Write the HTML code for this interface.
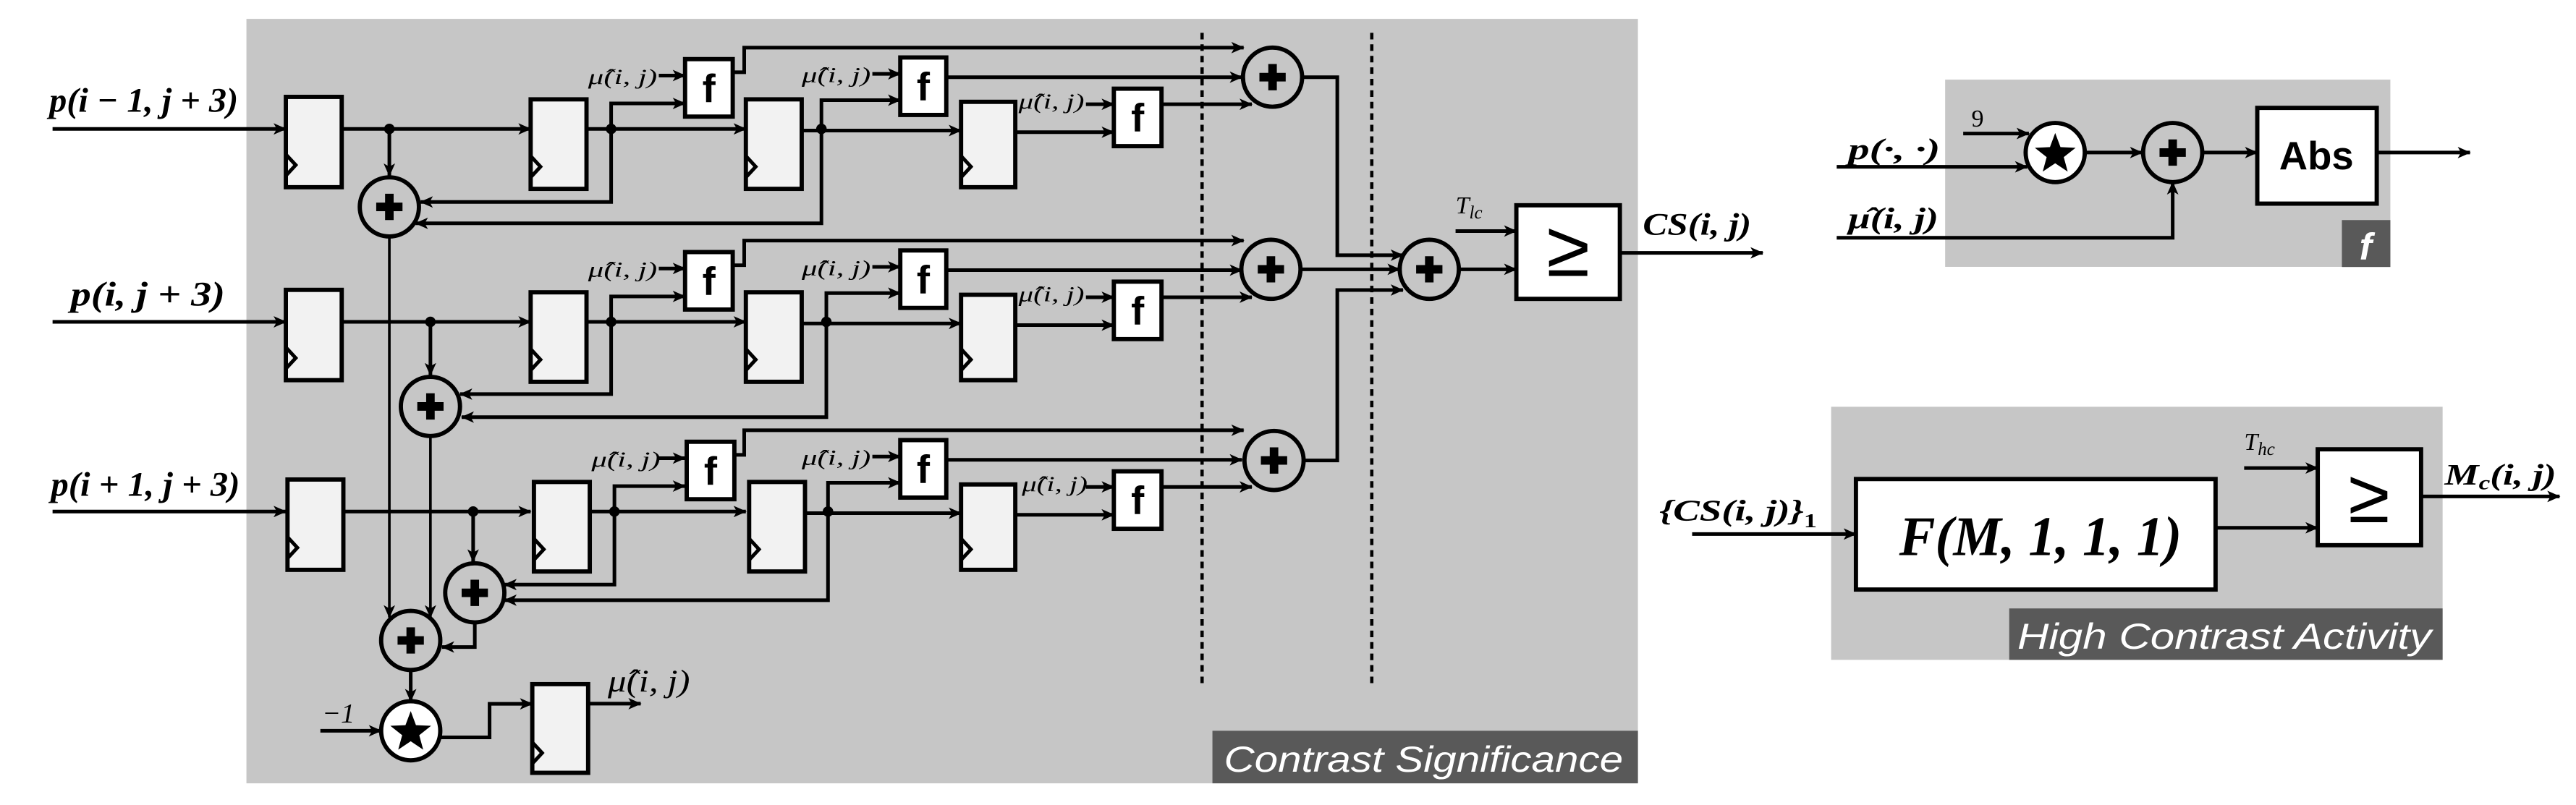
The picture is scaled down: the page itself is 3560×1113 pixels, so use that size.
<!DOCTYPE html>
<html><head><meta charset="utf-8"><style>
html,body{margin:0;padding:0;background:#fff;}
svg{display:block;}
.m{font-family:"Liberation Serif",serif;font-style:italic;font-weight:bold;fill:#000;}
.s{font-family:"Liberation Serif",serif;font-style:italic;fill:#000;}
.lab{font-family:"Liberation Sans",sans-serif;font-style:italic;fill:#fff;}
</style></head><body>
<svg width="3560" height="1113" viewBox="0 0 1568 490.2" preserveAspectRatio="none" xmlns="http://www.w3.org/2000/svg">
<defs>
<marker id="a" viewBox="0 0 8 7" refX="7.5" refY="3.5" markerWidth="8" markerHeight="7" markerUnits="userSpaceOnUse" orient="auto">
<path d="M0,0 L8,3.5 L0,7 L2,3.5 Z" fill="#000"/></marker>
</defs>
<rect x="0" y="0" width="1568" height="490.2" fill="#fff"/>
<rect x="150" y="11.5" width="847" height="465.5" fill="#c6c6c6"/>
<rect x="738" y="445" width="259" height="32" fill="#595959"/>
<text class="lab" x="745" y="470" font-size="22" textLength="243" lengthAdjust="spacingAndGlyphs">Contrast Significance</text>
<line x1="731.7" y1="20" x2="731.7" y2="416" stroke="#000" stroke-width="2" stroke-dasharray="4,3"/>
<line x1="835" y1="20" x2="835" y2="416" stroke="#000" stroke-width="2" stroke-dasharray="4,3"/>

<g fill="none" stroke="#000" stroke-width="2.2">
<g>
<line x1="32" y1="78.5" x2="174" y2="78.5" marker-end="url(#a)"/>
<line x1="208" y1="78.5" x2="323" y2="78.5" marker-end="url(#a)"/>
<line x1="357" y1="78.5" x2="454" y2="78.5" marker-end="url(#a)"/>
<line x1="488" y1="79.5" x2="585" y2="79.5" marker-end="url(#a)"/>
<line x1="618" y1="80.5" x2="678" y2="80.5" marker-end="url(#a)"/>
<polyline points="372,78.5 372,63 417,63" marker-end="url(#a)"/>
<polyline points="446,44 453,44 453,29 757,29" marker-end="url(#a)"/>
<line x1="401" y1="46" x2="417" y2="46" marker-end="url(#a)"/>
<polyline points="500,78.5 500,61 548,61" marker-end="url(#a)"/>
<line x1="576" y1="47" x2="756" y2="47" marker-end="url(#a)"/>
<line x1="531" y1="45" x2="548" y2="45" marker-end="url(#a)"/>
<line x1="661" y1="63.5" x2="678" y2="63.5" marker-end="url(#a)"/>
<line x1="707" y1="63.5" x2="762" y2="63.5" marker-end="url(#a)"/>
<g stroke-width="2.6" fill="#f2f2f2">
<rect x="174" y="59" width="34" height="55"/>
<rect x="323" y="60.5" width="34" height="54.5"/>
<rect x="454" y="60.5" width="34" height="54.5"/>
<rect x="585" y="62" width="33" height="52"/>
</g>
<polyline points="174,94 180,100.5 174,107"/>
<polyline points="323,95 329,101.5 323,108"/>
<polyline points="454,95 460,101.5 454,108"/>
<polyline points="585,95 591,101.5 585,108"/>
<g stroke-width="2.6" fill="#fff">
<rect x="417" y="36" width="29" height="35"/>
<rect x="548" y="35" width="28" height="35"/>
<rect x="678" y="54" width="29" height="35"/>
</g>
<circle cx="372" cy="78.5" r="3.2" fill="#000" stroke="none"/>
<circle cx="500" cy="78.5" r="3.2" fill="#000" stroke="none"/>
</g>
<g transform="translate(0,117.5)">
<line x1="32" y1="78.5" x2="174" y2="78.5" marker-end="url(#a)"/>
<line x1="208" y1="78.5" x2="323" y2="78.5" marker-end="url(#a)"/>
<line x1="357" y1="78.5" x2="454" y2="78.5" marker-end="url(#a)"/>
<line x1="488" y1="79.5" x2="585" y2="79.5" marker-end="url(#a)"/>
<line x1="618" y1="80.5" x2="678" y2="80.5" marker-end="url(#a)"/>
<polyline points="372,78.5 372,63 417,63" marker-end="url(#a)"/>
<polyline points="446,44 453,44 453,29 757,29" marker-end="url(#a)"/>
<line x1="401" y1="46" x2="417" y2="46" marker-end="url(#a)"/>
<polyline points="503,78.5 503,61 548,61" marker-end="url(#a)"/>
<line x1="576" y1="47" x2="756" y2="47" marker-end="url(#a)"/>
<line x1="531" y1="45" x2="548" y2="45" marker-end="url(#a)"/>
<line x1="661" y1="63.5" x2="678" y2="63.5" marker-end="url(#a)"/>
<line x1="707" y1="63.5" x2="762" y2="63.5" marker-end="url(#a)"/>
<g stroke-width="2.6" fill="#f2f2f2">
<rect x="174" y="59" width="34" height="55"/>
<rect x="323" y="60.5" width="34" height="54.5"/>
<rect x="454" y="60.5" width="34" height="54.5"/>
<rect x="585" y="62" width="33" height="52"/>
</g>
<polyline points="174,94 180,100.5 174,107"/>
<polyline points="323,95 329,101.5 323,108"/>
<polyline points="454,95 460,101.5 454,108"/>
<polyline points="585,95 591,101.5 585,108"/>
<g stroke-width="2.6" fill="#fff">
<rect x="417" y="36" width="29" height="35"/>
<rect x="548" y="35" width="28" height="35"/>
<rect x="678" y="54" width="29" height="35"/>
</g>
<circle cx="372" cy="78.5" r="3.2" fill="#000" stroke="none"/>
<circle cx="503" cy="78.5" r="3.2" fill="#000" stroke="none"/>
</g>
<g transform="translate(0,233)">
<line x1="32" y1="78.5" x2="174" y2="78.5" marker-end="url(#a)"/>
<line x1="208" y1="78.5" x2="323" y2="78.5" marker-end="url(#a)"/>
<line x1="357" y1="78.5" x2="454" y2="78.5" marker-end="url(#a)"/>
<line x1="488" y1="79.5" x2="585" y2="79.5" marker-end="url(#a)"/>
<line x1="618" y1="80.5" x2="678" y2="80.5" marker-end="url(#a)"/>
<polyline points="374,78.5 374,63 417,63" marker-end="url(#a)"/>
<polyline points="446,44 453,44 453,29 757,29" marker-end="url(#a)"/>
<line x1="401" y1="46" x2="417" y2="46" marker-end="url(#a)"/>
<polyline points="504,78.5 504,61 548,61" marker-end="url(#a)"/>
<line x1="576" y1="47" x2="756" y2="47" marker-end="url(#a)"/>
<line x1="531" y1="45" x2="548" y2="45" marker-end="url(#a)"/>
<line x1="661" y1="63.5" x2="678" y2="63.5" marker-end="url(#a)"/>
<line x1="707" y1="63.5" x2="762" y2="63.5" marker-end="url(#a)"/>
<g stroke-width="2.6" fill="#f2f2f2">
<rect x="175" y="59" width="34" height="55"/>
<rect x="325" y="60.5" width="34" height="54.5"/>
<rect x="456" y="60.5" width="34" height="54.5"/>
<rect x="585" y="62" width="33" height="52"/>
</g>
<polyline points="175,94 181,100.5 175,107"/>
<polyline points="325,95 331,101.5 325,108"/>
<polyline points="456,95 462,101.5 456,108"/>
<polyline points="585,95 591,101.5 585,108"/>
<g stroke-width="2.6" fill="#fff">
<rect x="418" y="36" width="29" height="35"/>
<rect x="548" y="35" width="28" height="35"/>
<rect x="678" y="54" width="29" height="35"/>
</g>
<circle cx="374" cy="78.5" r="3.2" fill="#000" stroke="none"/>
<circle cx="504" cy="78.5" r="3.2" fill="#000" stroke="none"/>
</g>

<line x1="237" y1="78.5" x2="237" y2="107" marker-end="url(#a)"/>
<circle cx="237" cy="78.5" r="3.2" fill="#000" stroke="none"/>
<polyline points="372,78.5 372,123 256,123" marker-end="url(#a)"/>
<polyline points="500,78.5 500,136 253,136" marker-end="url(#a)"/>
<line x1="262" y1="196" x2="262" y2="228.5" marker-end="url(#a)"/>
<circle cx="262" cy="196" r="3.2" fill="#000" stroke="none"/>
<polyline points="372,196 372,240 280,240" marker-end="url(#a)"/>
<polyline points="503,196 503,254 281,254" marker-end="url(#a)"/>
<line x1="288" y1="311.5" x2="288" y2="342" marker-end="url(#a)"/>
<circle cx="288" cy="311.5" r="3.2" fill="#000" stroke="none"/>
<polyline points="374,311.5 374,356 307,356" marker-end="url(#a)"/>
<polyline points="504,311.5 504,365.5 307,365.5" marker-end="url(#a)"/>
<line x1="237" y1="144.5" x2="237" y2="376" stroke-width="1.6" marker-end="url(#a)"/>
<line x1="262" y1="266" x2="262" y2="376" stroke-width="1.6" marker-end="url(#a)"/>
<polyline points="289,379.5 289,394 269,394" marker-end="url(#a)"/>
<line x1="250" y1="408.5" x2="250" y2="427" marker-end="url(#a)"/>
<line x1="195" y1="445" x2="232" y2="445" marker-end="url(#a)"/>
<polyline points="268,449 298,449 298,428.6 324,428.6" marker-end="url(#a)"/>
<rect x="324" y="416.6" width="34" height="54" fill="#f2f2f2" stroke-width="2.6"/>
<polyline points="324,452 330,458.5 324,465"/>
<line x1="358" y1="428.5" x2="390" y2="428.5" marker-end="url(#a)"/>

<polyline points="792.6,47 814,47 814,155.4 854,155.4" marker-end="url(#a)"/>
<line x1="791.6" y1="164" x2="852" y2="164" marker-end="url(#a)"/>
<polyline points="793.5,280.4 814,280.4 814,176.6 854,176.6" marker-end="url(#a)"/>
<line x1="888" y1="164" x2="923" y2="164" marker-end="url(#a)"/>
<line x1="886" y1="140.7" x2="923" y2="140.7" marker-end="url(#a)"/>
<rect x="923" y="125" width="63" height="57" fill="#fff" stroke-width="2.6"/>
<line x1="986" y1="154" x2="1073" y2="154" marker-end="url(#a)"/>

<g stroke-width="2.6" fill="none">
<circle cx="237" cy="126" r="18"/>
<circle cx="262" cy="247.5" r="18"/>
<circle cx="289" cy="361" r="18"/>
<circle cx="250" cy="390" r="18"/>
<circle cx="774.6" cy="47" r="18"/>
<circle cx="773.6" cy="164" r="18"/>
<circle cx="775.5" cy="280.4" r="18"/>
<circle cx="870" cy="164" r="18"/>
<circle cx="250" cy="445" r="18" fill="#fff"/>
</g>
</g>
<g fill="#000">
<path d="M-8,-2.6 H-2.6 V-8 H2.6 V-2.6 H8 V2.6 H2.6 V8 H-2.6 V2.6 H-8 Z" transform="translate(237,126)"/>
<path d="M-8,-2.6 H-2.6 V-8 H2.6 V-2.6 H8 V2.6 H2.6 V8 H-2.6 V2.6 H-8 Z" transform="translate(262,247.5)"/>
<path d="M-8,-2.6 H-2.6 V-8 H2.6 V-2.6 H8 V2.6 H2.6 V8 H-2.6 V2.6 H-8 Z" transform="translate(289,361)"/>
<path d="M-8,-2.6 H-2.6 V-8 H2.6 V-2.6 H8 V2.6 H2.6 V8 H-2.6 V2.6 H-8 Z" transform="translate(250,390)"/>
<path d="M-8,-2.6 H-2.6 V-8 H2.6 V-2.6 H8 V2.6 H2.6 V8 H-2.6 V2.6 H-8 Z" transform="translate(774.6,47)"/>
<path d="M-8,-2.6 H-2.6 V-8 H2.6 V-2.6 H8 V2.6 H2.6 V8 H-2.6 V2.6 H-8 Z" transform="translate(773.6,164)"/>
<path d="M-8,-2.6 H-2.6 V-8 H2.6 V-2.6 H8 V2.6 H2.6 V8 H-2.6 V2.6 H-8 Z" transform="translate(775.5,280.4)"/>
<path d="M-8,-2.6 H-2.6 V-8 H2.6 V-2.6 H8 V2.6 H2.6 V8 H-2.6 V2.6 H-8 Z" transform="translate(870,164)"/>
<path d="M0,-13 L3.2,-4.4 L12.4,-4 L5.2,1.7 L7.6,10.5 L0,5.4 L-7.6,10.5 L-5.2,1.7 L-12.4,-4 L-3.2,-4.4 Z" transform="translate(250,446)"/>
</g>
<g font-family="Liberation Sans, sans-serif" font-weight="bold" font-size="24" text-anchor="middle">
<text x="431.5" y="62">f</text><text x="562" y="61">f</text><text x="692.5" y="80">f</text>
<text x="431.5" y="179.5">f</text><text x="562" y="178.5">f</text><text x="692.5" y="197.5">f</text>
<text x="432.5" y="295">f</text><text x="562" y="294">f</text><text x="692.5" y="313">f</text>
</g>
<text class="m" x="30" y="68" font-size="21" textLength="115" lengthAdjust="spacingAndGlyphs">p(i − 1, j + 3)</text>
<text class="m" x="43" y="186" font-size="21" textLength="94" lengthAdjust="spacingAndGlyphs">p(i, j + 3)</text>
<text class="m" x="31" y="302" font-size="21" textLength="115" lengthAdjust="spacingAndGlyphs">p(i + 1, j + 3)</text>
<g class="s" font-size="13">
<text x="358" y="51" textLength="42" lengthAdjust="spacingAndGlyphs">μ̂(i, j)</text>
<text x="488" y="50" textLength="42" lengthAdjust="spacingAndGlyphs">μ̂(i, j)</text>
<text x="620" y="66" textLength="40" lengthAdjust="spacingAndGlyphs">μ̂(i, j)</text>
<text x="358" y="168.5" textLength="42" lengthAdjust="spacingAndGlyphs">μ̂(i, j)</text>
<text x="488" y="167.5" textLength="42" lengthAdjust="spacingAndGlyphs">μ̂(i, j)</text>
<text x="620" y="183.5" textLength="40" lengthAdjust="spacingAndGlyphs">μ̂(i, j)</text>
<text x="360" y="284" textLength="42" lengthAdjust="spacingAndGlyphs">μ̂(i, j)</text>
<text x="488" y="283" textLength="42" lengthAdjust="spacingAndGlyphs">μ̂(i, j)</text>
<text x="622" y="299" textLength="40" lengthAdjust="spacingAndGlyphs">μ̂(i, j)</text>
</g>
<text class="s" x="196" y="440" font-size="17">−1</text>
<text class="s" x="370" y="421" font-size="19" textLength="50" lengthAdjust="spacingAndGlyphs">μ̂(i, j)</text>
<text class="s" x="886" y="130" font-size="15">T<tspan font-size="11" dy="3">lc</tspan></text>
<text x="954.5" y="168" font-family="Liberation Sans, sans-serif" font-size="48" text-anchor="middle">≥</text>
<text class="m" x="1000" y="143" font-size="19" textLength="66" lengthAdjust="spacingAndGlyphs">CS(i, j)</text>

<!-- f panel -->
<rect x="1184" y="48.5" width="271" height="114" fill="#c6c6c6"/>
<rect x="1425.5" y="134" width="29.5" height="28.6" fill="#595959"/>
<text x="1440" y="158" font-family="Liberation Sans, sans-serif" font-weight="bold" font-style="italic" font-size="23" fill="#fff" text-anchor="middle">f</text>
<g fill="none" stroke="#000" stroke-width="2.2">
<line x1="1195" y1="81.3" x2="1235" y2="81.3" marker-end="url(#a)"/>
<line x1="1118" y1="101.6" x2="1234" y2="101.6" marker-end="url(#a)"/>
<line x1="1269" y1="92.9" x2="1304" y2="92.9" marker-end="url(#a)"/>
<line x1="1340.5" y1="92.9" x2="1374" y2="92.9" marker-end="url(#a)"/>
<polyline points="1118,144.8 1322.5,144.8 1322.5,111" marker-end="url(#a)"/>
<line x1="1446.7" y1="92.9" x2="1503.5" y2="92.9" marker-end="url(#a)"/>
<rect x="1374" y="65.7" width="72.7" height="58.3" fill="#fff" stroke-width="2.6"/>
<circle cx="1322.5" cy="92.9" r="18" stroke-width="2.6"/>
<circle cx="1251" cy="92.9" r="18" fill="#fff" stroke-width="2.6"/>
</g>
<path d="M-8,-2.6 H-2.6 V-8 H2.6 V-2.6 H8 V2.6 H2.6 V8 H-2.6 V2.6 H-8 Z" transform="translate(1322.5,92.9)" fill="#000"/>
<path d="M0,-13 L3.2,-4.4 L12.4,-4 L5.2,1.7 L7.6,10.5 L0,5.4 L-7.6,10.5 L-5.2,1.7 L-12.4,-4 L-3.2,-4.4 Z" transform="translate(1251,94)" fill="#000"/>
<text x="1410" y="103" font-family="Liberation Sans, sans-serif" font-weight="bold" font-size="24" text-anchor="middle">Abs</text>
<text x="1200" y="77" font-family="Liberation Serif, serif" font-size="15">9</text>
<text class="m" x="1125" y="97" font-size="18" textLength="56" lengthAdjust="spacingAndGlyphs">p(·, ·)</text>
<text class="m" x="1125" y="139" font-size="18" textLength="55" lengthAdjust="spacingAndGlyphs">μ̂(i, j)</text>

<!-- HCA panel -->
<rect x="1114.6" y="247.7" width="372.2" height="154.1" fill="#c6c6c6"/>
<rect x="1223" y="370.5" width="263.8" height="31.3" fill="#595959"/>
<text class="lab" x="1228" y="395" font-size="22" textLength="252" lengthAdjust="spacingAndGlyphs">High Contrast Activity</text>
<g fill="none" stroke="#000" stroke-width="2.2">
<line x1="1030" y1="325.2" x2="1129.7" y2="325.2" marker-end="url(#a)"/>
<line x1="1348.6" y1="321.4" x2="1410.8" y2="321.4" marker-end="url(#a)"/>
<line x1="1366" y1="285" x2="1410.8" y2="285" marker-end="url(#a)"/>
<line x1="1473.7" y1="302.3" x2="1558" y2="302.3" marker-end="url(#a)"/>
<rect x="1129.7" y="291.7" width="218.9" height="67.3" fill="#fff" stroke-width="2.6"/>
<rect x="1410.8" y="273.6" width="62.9" height="58.4" fill="#fff" stroke-width="2.6"/>
</g>
<text class="m" x="1156" y="338" font-size="34" textLength="172" lengthAdjust="spacingAndGlyphs">F(M, 1, 1, 1)</text>
<text x="1442" y="318" font-family="Liberation Sans, sans-serif" font-size="46" text-anchor="middle">≥</text>
<text class="m" x="1010" y="317" font-size="18" textLength="96" lengthAdjust="spacingAndGlyphs">{CS(i, j)}<tspan font-size="12" dy="4" font-style="normal">1</tspan></text>
<text class="s" x="1366" y="274" font-size="15">T<tspan font-size="11" dy="3">hc</tspan></text>
<text class="m" x="1488" y="295" font-size="18" textLength="68" lengthAdjust="spacingAndGlyphs">M<tspan font-size="12" dy="3">c</tspan><tspan dy="-3">(i, j)</tspan></text>
</svg>
</body></html>
